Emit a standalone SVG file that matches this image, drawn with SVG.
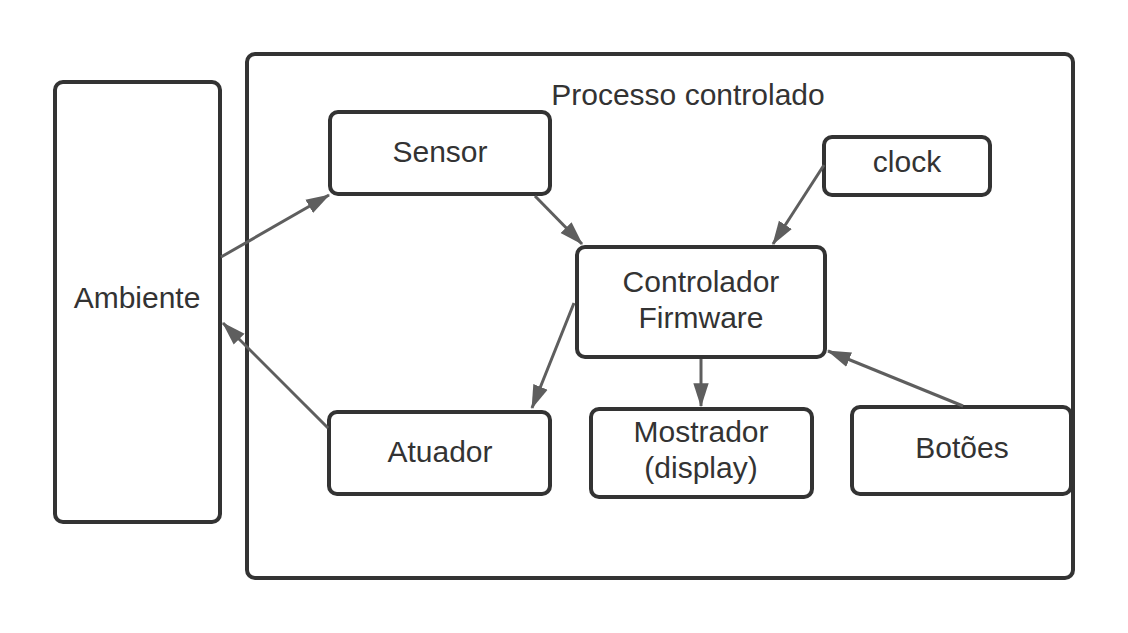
<svg xmlns="http://www.w3.org/2000/svg" width="1128" height="633" viewBox="0 0 1128 633">
<style>
.box{fill:#fff;stroke:#333;stroke-width:4}
.t{font-family:"Liberation Sans",Arial,sans-serif;font-size:30px;fill:#333;text-anchor:middle}
.c{stroke:#5e5e5e;stroke-width:3;fill:none;marker-end:url(#ah)}
</style>
<defs>
<marker id="ah" viewBox="0 0 10 10" refX="9.5" refY="5" markerWidth="8" markerHeight="8" markerUnits="strokeWidth" orient="auto">
<path d="M0,1.8 L10,5 L0,8.2 z" fill="#5e5e5e"/>
</marker>
</defs>
<rect width="1128" height="633" fill="#fff"/>
<g id="processo">
<rect class="box" x="247" y="54" width="826" height="524" rx="8"/>
<text class="t" x="688" y="105">Processo controlado</text>
</g>
<g id="ambiente">
<rect class="box" x="55" y="82" width="165" height="440" rx="8"/>
<text class="t" x="137" y="308">Ambiente</text>
</g>
<g id="sensor">
<rect class="box" x="330" y="112" width="220" height="82" rx="8"/>
<text class="t" x="440" y="162">Sensor</text>
</g>
<g id="clock">
<rect class="box" x="824" y="137" width="166" height="58" rx="8"/>
<text class="t" x="907" y="172">clock</text>
</g>
<g id="controlador">
<rect class="box" x="577" y="247" width="248" height="110" rx="8"/>
<text class="t" x="701" y="292">Controlador</text>
<text class="t" x="701" y="328">Firmware</text>
</g>
<g id="atuador">
<rect class="box" x="329" y="412" width="221" height="82" rx="8"/>
<text class="t" x="440" y="462">Atuador</text>
</g>
<g id="mostrador">
<rect class="box" x="591" y="409" width="221" height="88" rx="8"/>
<text class="t" x="701" y="442">Mostrador</text>
<text class="t" x="701" y="478">(display)</text>
</g>
<g id="botoes">
<rect class="box" x="852" y="407" width="219" height="87" rx="8"/>
<text class="t" x="962" y="458">Botões</text>
</g>
<g id="connectors">
<line class="c" x1="221" y1="257" x2="329" y2="195"/>
<line class="c" x1="535" y1="196" x2="582" y2="244"/>
<line class="c" x1="824" y1="165" x2="773" y2="244"/>
<line class="c" x1="574" y1="303" x2="532" y2="408"/>
<line class="c" x1="701" y1="359" x2="701" y2="406"/>
<line class="c" x1="963" y1="406" x2="828" y2="351"/>
<line class="c" x1="328" y1="428" x2="223" y2="323"/>
</g>
</svg>
